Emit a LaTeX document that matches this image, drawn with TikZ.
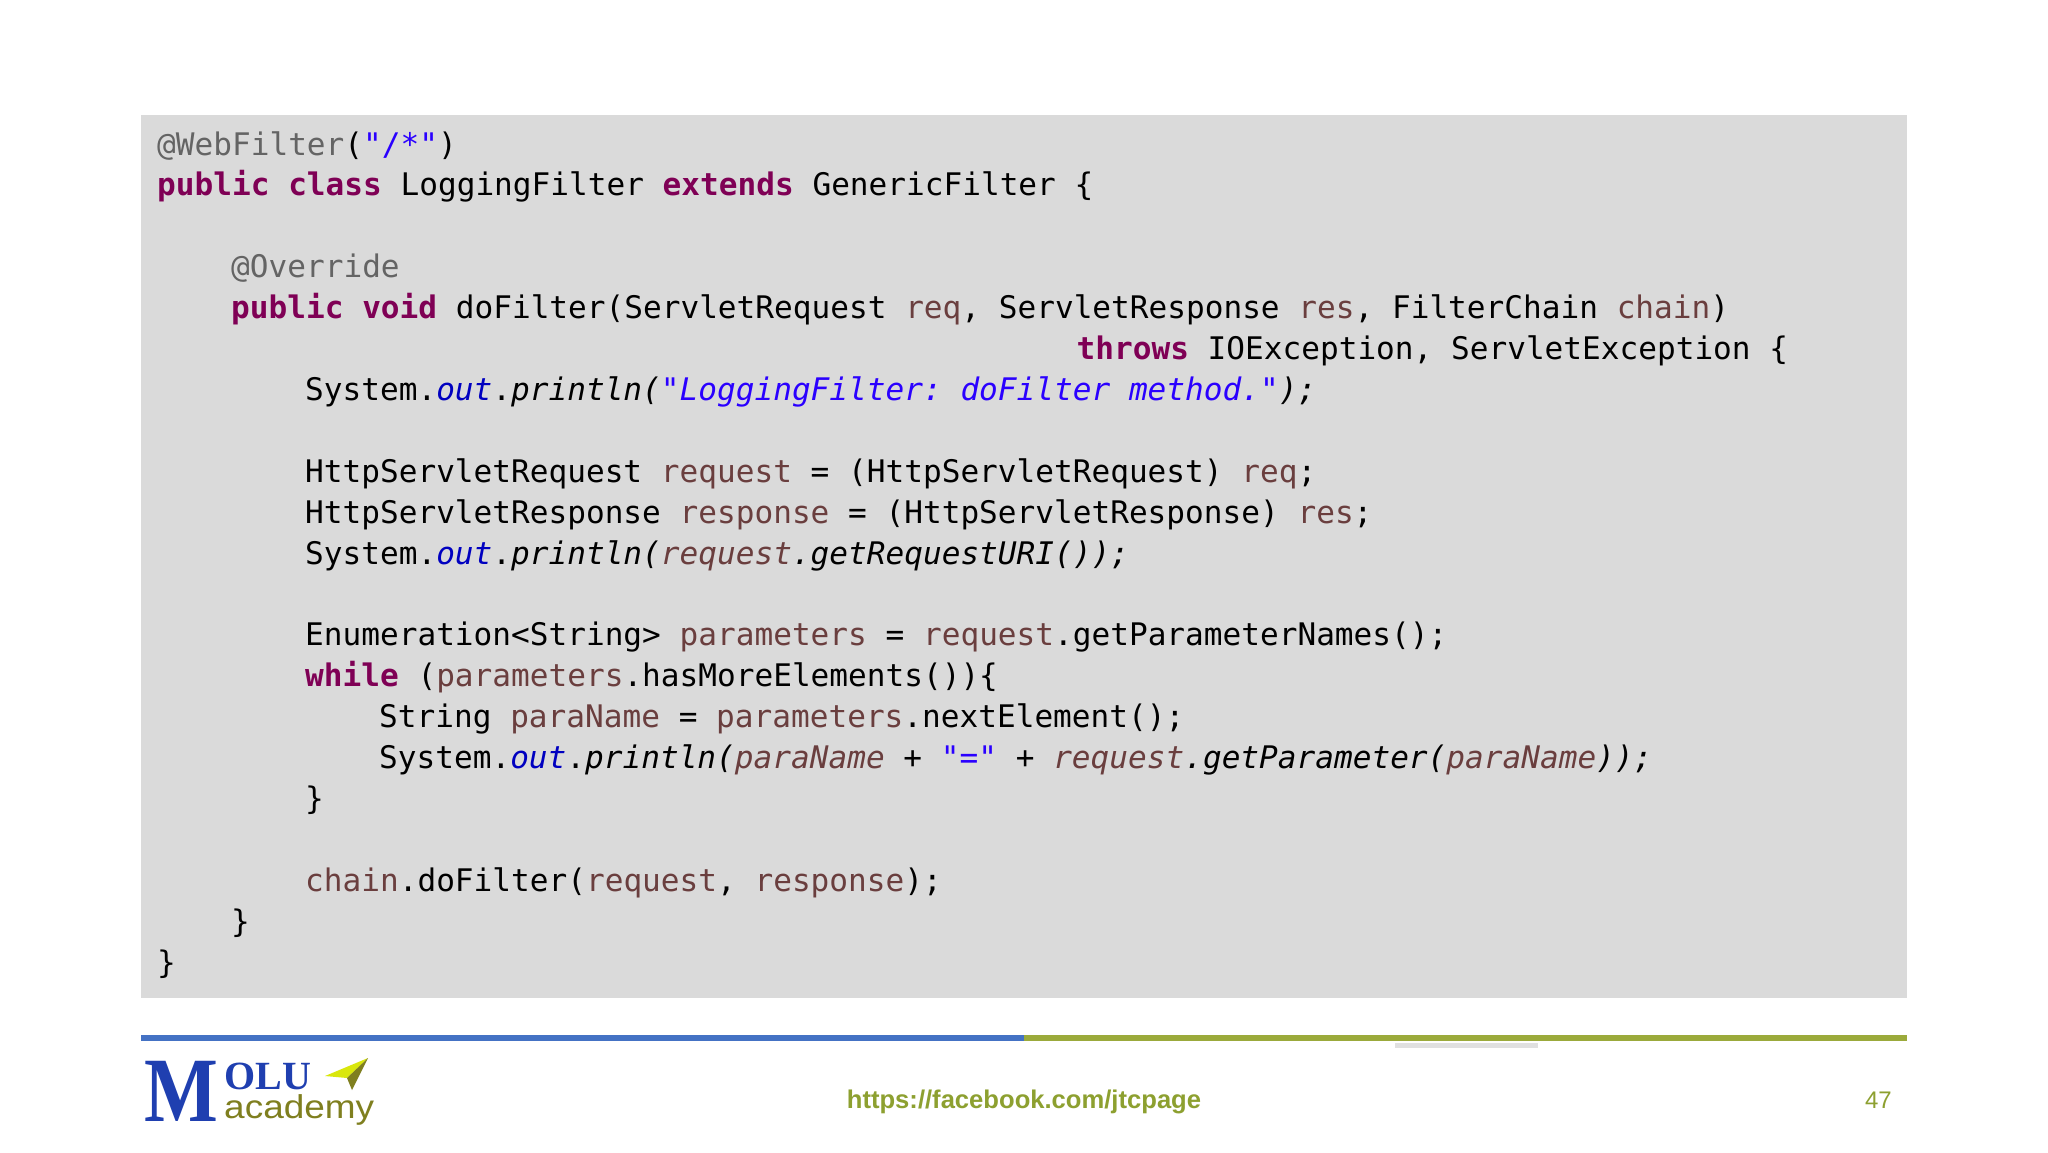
\documentclass[tikz,border=0pt]{standalone}
\usepackage{fontspec}
\setmainfont{Liberation Sans}
\newfontfamily\codefont{DejaVu Sans Mono}
\newfontfamily\serifb{Liberation Serif}
\frenchspacing
\definecolor{kwc}{HTML}{7F0055}
\definecolor{vrc}{HTML}{6A3E3E}
\definecolor{bluc}{HTML}{0000C0}
\definecolor{strc}{HTML}{2A00FF}
\definecolor{anc}{HTML}{646464}
\definecolor{bgc}{HTML}{DADADA}
\definecolor{lineblue}{HTML}{4472C4}
\definecolor{linegreen}{HTML}{9BAA3B}
\definecolor{urlc}{HTML}{8DA030}
\definecolor{logob}{HTML}{1F3FB0}
\definecolor{logog}{HTML}{7F7F1F}
\newcommand{\kw}[1]{\textcolor{kwc}{\bfseries #1}}
\newcommand{\vr}[1]{\textcolor{vrc}{#1}}
\newcommand{\ivr}[1]{\textcolor{vrc}{\itshape #1}}
\newcommand{\st}[1]{\textcolor{bluc}{\itshape #1}}
\newcommand{\sq}[1]{\textcolor{strc}{#1}}
\newcommand{\isq}[1]{\textcolor{strc}{\itshape #1}}
\newcommand{\an}[1]{\textcolor{anc}{#1}}
\newcommand{\ital}[1]{{\itshape #1}}
\begin{document}
\begin{tikzpicture}[x=1pt,y=-1pt,
  codeline/.style={anchor=base west,inner sep=0pt,font=\codefont\fontsize{31.1}{40}\selectfont}]
\useasboundingbox (0,0) rectangle (2048,1152);
\fill[white] (0,0) rectangle (2048,1152);
\fill[bgc] (141,115) rectangle (1907,998);
\def\cw{18.5}
\def\xo{157}
\def\yo{155}
\def\ls{40.9}
\node[codeline] (l1) at (\xo,\yo+0*\ls) {\an{@WebFilter}(\sq{"/*"})};
\node[codeline] (l2) at (\xo,\yo+1*\ls) {\kw{public} \kw{class} LoggingFilter \kw{extends} GenericFilter \{};
\node[codeline] (l4) at (\xo+4*\cw,\yo+3*\ls) {\an{@Override}};
\node[codeline] (l5) at (\xo+4*\cw,\yo+4*\ls) {\kw{public} \kw{void} doFilter(ServletRequest \vr{req}, ServletResponse \vr{res}, FilterChain \vr{chain})};
\node[codeline] (l6) at (\xo+49.7*\cw,\yo+5*\ls) {\kw{throws} IOException, ServletException \{};
\node[codeline] (l7) at (\xo+8*\cw,\yo+6*\ls) {System.\st{out}.\ital{println(}\isq{"LoggingFilter: doFilter method."}\ital{);}};
\node[codeline] (l9) at (\xo+8*\cw,\yo+8*\ls) {HttpServletRequest \vr{request} = (HttpServletRequest) \vr{req};};
\node[codeline] (l10) at (\xo+8*\cw,\yo+9*\ls) {HttpServletResponse \vr{response} = (HttpServletResponse) \vr{res};};
\node[codeline] (l11) at (\xo+8*\cw,\yo+10*\ls) {System.\st{out}.\ital{println(}\ivr{request}\ital{.getRequestURI());}};
\node[codeline] (l13) at (\xo+8*\cw,\yo+12*\ls) {Enumeration<String> \vr{parameters} = \vr{request}.getParameterNames();};
\node[codeline] (l14) at (\xo+8*\cw,\yo+13*\ls) {\kw{while} (\vr{parameters}.hasMoreElements())\{};
\node[codeline] (l15) at (\xo+12*\cw,\yo+14*\ls) {String \vr{paraName} = \vr{parameters}.nextElement();};
\node[codeline] (l16) at (\xo+12*\cw,\yo+15*\ls) {System.\st{out}.\ital{println(}\ivr{paraName}\ital{ + }\isq{"="}\ital{ + }\ivr{request}\ital{.getParameter(}\ivr{paraName}\ital{));}};
\node[codeline] (l17) at (\xo+8*\cw,\yo+16*\ls) {\}};
\node[codeline] (l19) at (\xo+8*\cw,\yo+18*\ls) {\vr{chain}.doFilter(\vr{request}, \vr{response});};
\node[codeline] (l20) at (\xo+4*\cw,\yo+19*\ls) {\}};
\node[codeline] (l21) at (\xo,\yo+20*\ls) {\}};
% footer lines
\fill[lineblue] (141,1035) rectangle (1024,1041);
\fill[linegreen] (1024,1035) rectangle (1907,1041);
\fill[black!12] (1395,1043) rectangle (1538,1048);
\node[anchor=base,inner sep=0pt,text=urlc,font=\bfseries\fontsize{25.6}{28}\selectfont] (url) at (1024,1108) {https://facebook.com/jtcpage};
\node[anchor=base east,inner sep=0pt,text=urlc,font=\fontsize{24}{26}\selectfont] (pg) at (1892,1108) {47};
% logo
\node[anchor=base west,inner sep=0pt,text=logob,font=\serifb\bfseries\fontsize{92}{92}\selectfont,xscale=0.85] (lm) at (144,1121) {M};
\node[anchor=base west,inner sep=0pt,text=logob,font=\serifb\bfseries\fontsize{40}{40}\selectfont] (lolu) at (224,1089) {OLU};
\node[anchor=base west,inner sep=0pt,text=logog,font=\fontsize{33}{33}\selectfont,xscale=1.12] (lac) at (224,1118) {academy};
\fill[yellow!85!green] (368,1058) -- (325,1076) -- (347,1078) -- cycle;
\fill[logog] (368,1058) -- (347,1078) -- (352,1090) -- cycle;
\end{tikzpicture}
\end{document}
